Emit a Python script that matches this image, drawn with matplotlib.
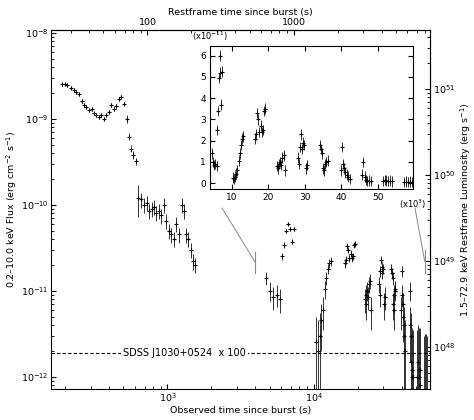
import numpy as np
import matplotlib
matplotlib.use("Agg")
import matplotlib.pyplot as plt
from matplotlib.patches import ConnectionPatch
from matplotlib.ticker import NullFormatter

plt.rcParams['font.size'] = 6.8

# early light curve: observed time (s), flux (1e-9 erg/cm2/s), fractional error
t_early = [190, 198, 206, 218, 228, 238, 248, 258, 268, 278, 290, 302, 314, 326, 338, 352,
           366, 380, 396, 412, 428, 446, 464, 484, 505, 525, 545, 565, 585, 605, 630, 655,
           690, 720, 750, 780, 810, 840, 870, 900, 940, 980, 1020, 1060, 1100, 1150, 1200,
           1250, 1290, 1340, 1390, 1440, 1490, 1550]
f_early = [2.55, 2.5, 2.45, 2.3, 2.15, 2.05, 1.95, 1.6, 1.45, 1.35, 1.25, 1.3, 1.15, 1.1,
           1.05, 1.1, 1.0, 1.1, 1.2, 1.45, 1.3, 1.4, 1.7, 1.8, 1.5, 1.0, 0.62, 0.45, 0.38,
           0.32, 0.12, 0.115, 0.10, 0.105, 0.085, 0.09, 0.095, 0.08, 0.085, 0.075, 0.1, 0.065,
           0.05, 0.045, 0.04, 0.06, 0.045, 0.1, 0.085, 0.045, 0.04, 0.03, 0.022, 0.02]
e_early = [0.05] * 25 + [0.1] * 5 + [0.4] + [0.2] * 23

# late light curve: observed time (1e3 s), flux (1e-11 erg/cm2/s)
t_late = [4.7, 5.0, 5.3, 5.6, 5.9, 6.1, 6.3, 6.5, 6.7, 6.9, 7.1, 7.4,
          10.4, 10.7, 11.0, 11.3, 11.6, 11.9, 12.2, 12.5, 12.8, 13.1,
          16.4, 16.7, 17.0, 17.3, 17.6, 17.9, 18.2, 18.5, 18.8, 19.1,
          22.4, 22.7, 23.0, 23.3, 23.6, 23.9, 24.2, 24.6,
          28.1, 28.4, 28.7, 29.0, 29.3, 29.6, 29.9, 30.2, 30.6,
          34.1, 34.4, 34.7, 35.0, 35.3, 35.6, 35.9, 36.3,
          39.8, 40.1, 40.4, 40.7, 41.0, 41.4, 41.8, 42.3,
          45.5, 45.9, 46.3, 46.7, 47.1, 47.5, 48.0,
          51.3, 51.8, 52.3, 52.8, 53.3, 53.7,
          57.0, 57.6, 58.2, 58.8, 59.3]
f_late = [1.4, 1.0, 0.85, 0.9, 0.8, 2.5, 3.4, 4.95, 6.0, 5.2, 3.7, 5.25,
          0.25, 0.2, 0.3, 0.45, 0.6, 1.05, 1.4, 1.8, 2.1, 2.2,
          2.1, 2.3, 3.3, 3.0, 2.4, 2.7, 2.4, 2.5, 3.4, 3.5,
          0.8, 0.7, 0.9, 1.0, 0.85, 1.2, 1.3, 0.6,
          1.2, 0.9, 1.7, 2.3, 1.6, 1.9, 1.8, 0.7, 0.85,
          1.8, 1.6, 1.4, 0.7, 0.6, 0.9, 1.0, 1.05,
          0.6, 1.7, 0.9, 0.7, 0.5, 0.4, 0.3, 0.2,
          0.4, 1.0, 0.3, 0.15, 0.1, 0.12, 0.1,
          0.1, 0.15, 0.12, 0.1, 0.12, 0.08,
          0.05, 0.06, 0.05, 0.06, 0.05]
e_late = [0.25] * len(f_late)

sdss_level = 1.9e-12
z_factor = 7.29       # 1 + z
lum_factor = 4.5e59   # flux -> luminosity

t1 = np.array(t_early)
f1 = np.array(f_early) * 1e-9
e1 = f1 * np.array(e_early)
t2 = np.array(t_late) * 1e3
f2 = np.array(f_late) * 1e-11
e2 = np.array(e_late) * 1e-11
lo2 = np.minimum(e2, f2 - 1e-13)

fig = plt.figure(figsize=(4.74, 4.2), dpi=100)
ax = fig.add_axes([0.108, 0.074, 0.80, 0.855])
kw = dict(fmt='+', color='black', ms=3, mew=0.8, elinewidth=0.7, ecolor='#333333')
ax.errorbar(t1, f1, yerr=e1, **kw)
ax.errorbar(t2, f2, yerr=[lo2, e2], **kw)
ax.set_xscale('log')
ax.set_yscale('log')
ax.set_xlim(160, 63000)
ax.set_ylim(0.72e-12, 1.08e-8)
ax.set_xticks([1e3, 1e4])
ax.set_yticks([1e-12, 1e-11, 1e-10, 1e-9, 1e-8])
ax.xaxis.set_minor_formatter(NullFormatter())
ax.yaxis.set_minor_formatter(NullFormatter())
ax.axhline(sdss_level, color='black', ls='--', lw=0.8, dashes=(3, 2))
ax.text(1300, sdss_level, 'SDSS J1030+0524  x 100', ha='center', va='center',
        fontsize=7, bbox=dict(fc='white', ec='none', pad=1.5))
ax.set_xlabel('Observed time since burst (s)', labelpad=1)
ax.set_ylabel('0.2–10.0 keV Flux (erg cm$^{-2}$ s$^{-1}$)', labelpad=1)
ax.tick_params(which='both', direction='in', top=False, right=False, pad=2)

top = ax.secondary_xaxis('top', functions=(lambda x: x / z_factor, lambda x: x * z_factor))
top.set_xlabel('Restframe time since burst (s)', labelpad=2)
top.set_xticks([100, 1000])
top.set_xticklabels(['100', '1000'])
top.xaxis.set_minor_formatter(NullFormatter())
top.tick_params(which='both', direction='in', pad=2)

right = ax.secondary_yaxis('right', functions=(lambda y: y * lum_factor, lambda y: y / lum_factor))
right.set_ylabel('1.5–72.9 keV Restframe Luminosity (erg s$^{-1}$)', labelpad=2)
right.set_yticks([1e48, 1e49, 1e50, 1e51])
right.yaxis.set_minor_formatter(NullFormatter())
right.tick_params(which='both', direction='in', pad=2)

# inset
ins = fig.add_axes([0.443, 0.55, 0.428, 0.340])
ins.errorbar(np.array(t_late), np.array(f_late), yerr=e_late, **kw)
ins.set_xlim(4.1, 59.5)
ins.set_ylim(-0.28, 6.45)
ins.set_xticks([10, 20, 30, 40, 50])
ins.set_yticks(range(7))
ins.tick_params(direction='in', labelsize=6.5, top=True, right=True, pad=3)
ins.text(0.0, 1.02, '(x10$^{-11}$)', transform=ins.transAxes, ha='center', va='bottom', fontsize=6)
ins.text(1.0, -0.11, '(x10$^3$)', transform=ins.transAxes, ha='center', va='center', fontsize=6,
         bbox=dict(fc='white', ec='none', pad=0.5))

# connector lines from inset to the main light curve
for tt, ya, yb, fx, fy in [(4000, 2.8e-11, 1.6e-11, 222, 212), (57600, 3.0e-11, 1.6e-11, 415, 212)]:
    ax.plot([tt, tt], [ya, yb], color='#888888', lw=0.8)
    con = ConnectionPatch(xyA=(tt, (ya * yb) ** 0.5), coordsA=ax.transData,
                          xyB=(fx, fy), coordsB='figure pixels', color='#888888', lw=0.7)
    fig.add_artist(con)

fig.savefig('out.png', dpi=100)
